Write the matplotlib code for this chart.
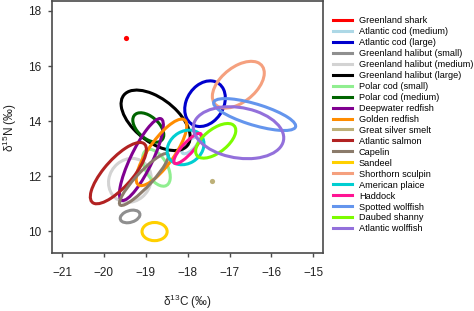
import numpy as np
import matplotlib.pyplot as plt
from matplotlib.patches import Ellipse
from matplotlib.lines import Line2D

plt.rcParams['font.family'] = ['Liberation Sans', 'DejaVu Sans']
plt.rcParams['mathtext.default'] = 'regular'

species = ['Greenland shark', 'Atlantic cod (medium)', 'Atlantic cod (large)',
           'Greenland halibut (small)', 'Greenland halibut (medium)',
           'Greenland halibut (large)', 'Polar cod (small)', 'Polar cod (medium)',
           'Deepwater redfish', 'Golden redfish', 'Great silver smelt',
           'Atlantic salmon', 'Capelin', 'Sandeel', 'Shorthorn sculpin',
           'American plaice', 'Haddock', 'Spotted wolffish', 'Daubed shanny',
           'Atlantic wolffish']
colours = ['#ff0000', '#add8e6', '#0000cd', '#8f8f8f', '#d3d3d3', '#000000',
           '#90ee90', '#006400', '#800090', '#ff8c00', '#bdb078', '#b22222',
           '#8b7b6b', '#ffd000', '#f5a07e', '#00ced1', '#ff1493', '#6495ed',
           '#7cfc00', '#9370db']

# group means and standard ellipse parameters (nan sd -> single point)
d13C = [-19.47, -17.94, -17.585, -19.375, -19.38, -18.765, -18.745, -18.94,
        -19.105, -18.625, -17.41, -19.655, -19.045, -18.79, -16.79, -18.05,
        -18.0, -16.40, -17.33, -16.785]
d15N = [17.02, 13.11, 14.63, 10.53, 11.84, 14.025, 12.30, 13.765,
        12.60, 12.86, 11.83, 12.105, 11.875, 9.98, 15.32, 13.04,
        13.0, 14.235, 13.28, 13.575]
sd13C = [np.nan, 0.20, 0.485, 0.235, 0.51, 0.825, 0.33, 0.37,
         0.525, 0.605, np.nan, 0.67, 0.585, 0.30, 0.62, 0.44,
         0.33, 0.98, 0.48, 1.08]
sd15N = [np.nan, 0.30, 0.83, 0.23, 0.80, 1.10, 0.67, 0.535,
         1.49, 1.21, np.nan, 1.115, 0.945, 0.33, 0.85, 0.63,
         0.55, 0.58, 0.63, 0.945]
rho = [0, 0.7, 0.25, 0.3, 0.1, -0.55, -0.5, -0.5,
       0.84, 0.8, 0, 0.77, 0.91, 0.0, 0.5, 0.2,
       0.85, -0.72, 0.6, -0.2]

xticks = [-21, -20, -19, -18, -17, -16, -15]
yticks = [10, 12, 14, 16, 18]


def sea(ax, mx, my, sx, sy, r, col):
    cov = np.array([[sx**2, r*sx*sy], [r*sx*sy, sy**2]])
    vals, vecs = np.linalg.eigh(cov)
    ang = np.degrees(np.arctan2(vecs[1, 1], vecs[0, 1]))
    e = Ellipse((mx, my), 2*np.sqrt(vals[1]), 2*np.sqrt(vals[0]), angle=ang,
                fill=False, ec=col, lw=2.2)
    ax.add_patch(e)


fig = plt.figure(figsize=(4.74, 3.11), dpi=100)
ax = fig.add_axes([0.1097, 0.1855, 0.5724, 0.811])

for i in range(len(species)):
    if np.isnan(sd13C[i]):
        ax.scatter(d13C[i], d15N[i], s=14, c=colours[i], lw=0, zorder=3)
    else:
        sea(ax, d13C[i], d15N[i], sd13C[i], sd15N[i], rho[i], colours[i])

ax.set_xlim(-21.24, -14.76)
ax.set_ylim(9.19, 18.36)
ax.set_xticks(xticks)
ax.set_yticks(yticks)
for s in ax.spines.values():
    s.set_color('#4a4a4a')
    s.set_linewidth(1.2)
ax.tick_params(direction='out', length=3, width=1, color='#4a4a4a',
               labelsize=8.5, labelcolor='#222222')
ax.tick_params(axis='x', pad=7)
ax.tick_params(axis='y', pad=5)

ax.set_xlabel('δ$^{13}$C (‰)', fontsize=8.5, color='#222222')
ax.set_ylabel('δ$^{15}$N (‰)', fontsize=8.5, color='#222222')
ax.xaxis.set_label_coords(0.5, -0.158)
ax.yaxis.set_label_coords(-0.122, 0.5)

handles = [Line2D([], [], color=c, lw=2.2) for c in colours]
fig.legend(handles, species, loc='upper left', bbox_to_anchor=(333/474, 1 - 16/311),
           frameon=False, fontsize=6.6, handlelength=2.07, handletextpad=0.76,
           labelspacing=0.215, borderpad=0, borderaxespad=0)

fig.savefig('out.png', dpi=100)
